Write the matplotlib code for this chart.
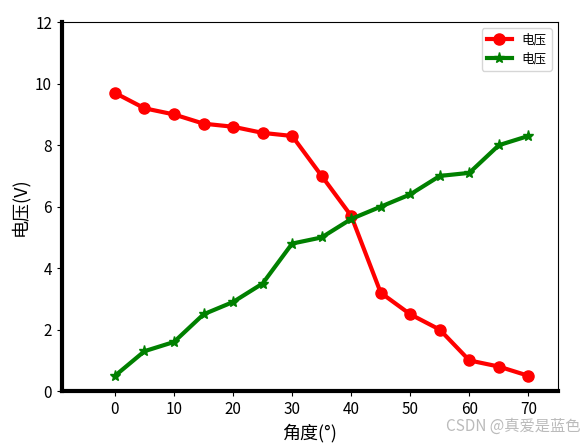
import matplotlib
matplotlib.use("Agg")
import matplotlib.pyplot as plt

plt.rcParams['font.family'] = ['Noto Sans CJK SC', 'DejaVu Sans']

angles = [0, 5, 10, 15, 20, 25, 30, 35, 40, 45, 50, 55, 60, 65, 70]
voltage_red = [9.7, 9.2, 9.0, 8.7, 8.6, 8.4, 8.3, 7.0, 5.7, 3.2, 2.5, 2.0, 1.0, 0.8, 0.5]
voltage_green = [0.5, 1.3, 1.6, 2.5, 2.9, 3.5, 4.8, 5.0, 5.6, 6.0, 6.4, 7.0, 7.1, 8.0, 8.3]

fig = plt.figure(figsize=(5.83, 4.44), dpi=100)
ax = fig.add_axes([0.106, 0.119, 0.851, 0.831])
ax.plot(angles, voltage_red, color='red', marker='o', markersize=8, linewidth=3, label='电压')
ax.plot(angles, voltage_green, color='green', marker='*', markersize=8, linewidth=3, label='电压')
ax.set_xlim(-9, 75)
ax.set_ylim(0, 12)
ax.set_xticks(range(0, 71, 10))
ax.set_yticks(range(0, 13, 2))
ax.spines['left'].set_linewidth(3)
ax.spines['bottom'].set_linewidth(3)
ax.tick_params(labelsize=11)
ax.set_xlabel('角度(°)', fontsize=13)
ax.set_ylabel('电压(V)', fontsize=13)
ax.legend(loc='upper right', fontsize=9)
fig.text(0.995, 0.02, 'CSDN @真爱是蓝色', ha='right', va='bottom', fontsize=11, color='#bbbbbb')
fig.savefig('out.png', dpi=100)
